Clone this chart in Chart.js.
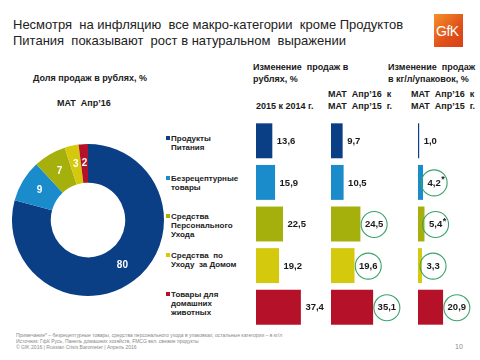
<!DOCTYPE html>
<html><head><meta charset="utf-8">
<script src="https://cdn.jsdelivr.net/npm/chart.js@4.4.1/dist/chart.umd.min.js"></script>
<style>
html,body{margin:0;padding:0;background:#fff;}
body{width:480px;height:360px;position:relative;overflow:hidden;font-family:"Liberation Sans",Arial,sans-serif;color:#1a1a1a;}
.a{position:absolute;white-space:nowrap;}
.t{font-size:13px;line-height:16px;color:#222;}
.h{font-size:9px;font-weight:bold;line-height:12px;}
.lg{font-size:8px;font-weight:bold;line-height:9px;color:#222;}
.sq{position:absolute;left:-5px;top:2px;width:4px;height:4px;}
.f{font-size:5px;line-height:6px;color:#888;}
canvas{position:absolute;}
</style></head><body>
<div class="a t" style="left:13px;top:17px;">Несмотря&nbsp; на инфляцию&nbsp; все макро-категории&nbsp; кроме Продуктов<br>Питания&nbsp; показывают&nbsp; рост в натуральном&nbsp; выражении</div>
<div class="a" style="left:434px;top:14px;width:29px;height:33px;background:linear-gradient(135deg,#f5902a,#e0501a 60%,#d8401a);"><div style="position:absolute;left:2px;top:9px;color:#fff;font-size:14px;font-family:'Liberation Sans',Arial;letter-spacing:-0.5px;">GfK</div></div>

<div class="a h" style="left:33px;top:72px;">Доля продаж в рублях, %</div>
<div class="a h" style="left:57px;top:97px;">MAT&nbsp; Апр’16</div>

<div class="a h" style="left:253px;top:61px;">Изменение&nbsp; продаж в<br>рублях, %</div>
<div class="a h" style="left:256px;top:100px;">2015 к 2014 г.</div>
<div class="a h" style="left:328px;top:88px;">MAT&nbsp; Апр’16&nbsp; к<br>MAT&nbsp; Апр’15&nbsp; г.</div>
<div class="a h" style="left:388px;top:61px;">Изменение&nbsp; продаж<br>в кг/л/упаковок, %</div>
<div class="a h" style="left:411px;top:88px;">MAT&nbsp; Апр’16&nbsp; к<br>MAT&nbsp; Апр’15&nbsp; г.</div>

<div id="legend"></div>

<canvas id="donut" width="152" height="152" style="left:12px;top:144px;"></canvas>
<canvas id="c1" width="75" height="208" style="left:256px;top:120px;"></canvas>
<canvas id="c2" width="87" height="208" style="left:331px;top:120px;"></canvas>
<canvas id="c3" width="62" height="208" style="left:418px;top:120px;"></canvas>

<div class="a f" style="left:16px;top:332px;">Примечание* – безрецептурные товары, средства персонального ухода в упаковках; остальные категории – в кг/л<br>Источник: ГфК Русь, Панель домашних хозяйств, FMCG вкл. свежие продукты<br>© GfK 2016 | Russian Crisis Barometer | Апрель 2016</div>
<div class="a" style="left:455px;top:343px;font-size:7px;color:#888;">10</div>

<script>
const categories = ['Продукты\nПитания', 'Безрецептурные\nтовары', 'Средства\nПерсонального\nУхода', 'Средства  по\nУходу  за Домом', 'Товары для\nдомашних\nживотных'];
const shareValues = [80, 9, 7, 3, 2];
const rub2015 = [13.6, 15.9, 22.5, 19.2, 37.4];
const rubMat = [9.7, 10.5, 24.5, 19.6, 35.1];
const volMat = [1.0, 4.2, 5.4, 3.3, 20.9];
const rubMatCircled = [false, false, true, true, true];
const volMatCircled = [false, true, true, true, true];
const volMatStar = [false, true, true, false, false];
const colors = ['#0b3f85', '#1a8bcb', '#a6b00c', '#d5c90e', '#b5122a'];
const legendTops = [134, 174, 212, 251, 290];

// legend
const lg = document.getElementById('legend');
categories.forEach((c, i) => {
  const d = document.createElement('div');
  d.className = 'a lg';
  d.style.left = '171px';
  d.style.top = legendTops[i] + 'px';
  d.innerHTML = '<span class="sq" style="background:' + colors[i] + '"></span>' + c.replace(/  /g, '&nbsp; ').split('\n').join('<br>');
  lg.appendChild(d);
});

const fmt = v => v.toFixed(1).replace('.', ',');

const donutLabels = {
  id: 'donutLabels',
  afterDatasetsDraw(chart) {
    const ctx = chart.ctx;
    const meta = chart.getDatasetMeta(0);
    ctx.save();
    ctx.fillStyle = '#fff';
    ctx.font = 'bold 10px "Liberation Sans", Arial';
    ctx.textAlign = 'center';
    ctx.textBaseline = 'middle';
    meta.data.forEach((arc, i) => {
      const p = arc.tooltipPosition();
      ctx.fillText(String(shareValues[i]), p.x, p.y);
    });
    ctx.restore();
  }
};

new Chart(document.getElementById('donut'), {
  type: 'doughnut',
  data: { labels: categories, datasets: [{ data: shareValues, backgroundColor: colors, borderWidth: 0 }] },
  options: {
    responsive: false, animation: false, cutout: '49%',
    layout: { padding: 0 },
    plugins: { legend: { display: false }, tooltip: { enabled: false } }
  },
  plugins: [donutLabels]
});

function barLabels(values, circled, stars) {
  return {
    id: 'barLabels',
    afterDatasetsDraw(chart) {
      const ctx = chart.ctx;
      const meta = chart.getDatasetMeta(0);
      ctx.save();
      ctx.font = 'bold 9.5px "Liberation Sans", Arial';
      ctx.textBaseline = 'middle';
      ctx.textAlign = 'left';
      ctx.fillStyle = '#1a1a1a';
      meta.data.forEach((bar, i) => {
        const txt = fmt(values[i]);
        const w = ctx.measureText(txt).width;
        const x = bar.x + 4.5;
        const y = bar.y + 0.5;
        ctx.fillText(txt, x, y);
        if (circled[i]) {
          ctx.beginPath();
          ctx.strokeStyle = '#3aa36b';
          ctx.lineWidth = 1.1;
          ctx.arc(x + w / 2, y, 13, 0, Math.PI * 2);
          ctx.stroke();
        }
        if (stars && stars[i]) {
          ctx.font = 'bold 9px "Liberation Sans", Arial';
          ctx.textBaseline = 'alphabetic';
          ctx.fillText('*', x + w + 0.5, y - 1);
          ctx.font = 'bold 9.5px "Liberation Sans", Arial';
          ctx.textBaseline = 'middle';
        }
      });
      ctx.restore();
    }
  };
}

function barChart(id, values, circled, stars) {
  const cv = document.getElementById(id);
  new Chart(cv, {
    type: 'bar',
    data: { labels: categories, datasets: [{ data: values, backgroundColor: colors, barPercentage: 0.84, categoryPercentage: 1, borderWidth: 0 }] },
    options: {
      indexAxis: 'y', responsive: false, animation: false,
      layout: { padding: 0 },
      plugins: { legend: { display: false }, tooltip: { enabled: false } },
      scales: {
        x: { display: false, min: 0, max: cv.width / 1.2 },
        y: { display: false }
      }
    },
    plugins: [barLabels(values, circled, stars)]
  });
}

barChart('c1', rub2015, [false, false, false, false, false], null);
barChart('c2', rubMat, rubMatCircled, null);
barChart('c3', volMat, volMatCircled, volMatStar);
</script>
</body></html>
